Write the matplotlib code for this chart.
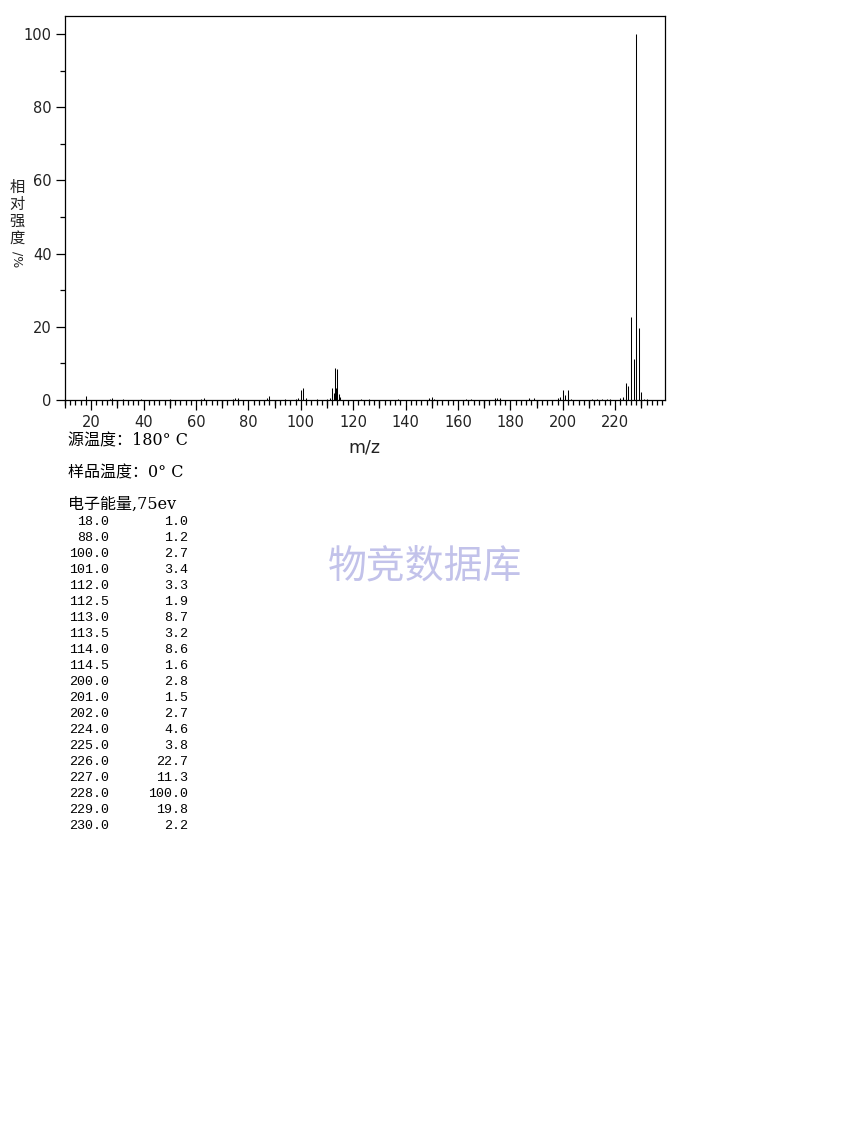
import matplotlib
matplotlib.use("Agg")
import matplotlib.pyplot as plt
from matplotlib.ticker import MultipleLocator

# ── Data ─────────────────────────────────────────────────────────────────────
# listed peaks (m/z, relative intensity %)
listed_mz = [18.0, 88.0, 100.0, 101.0, 112.0, 112.5, 113.0, 113.5, 114.0, 114.5,
             200.0, 201.0, 202.0, 224.0, 225.0, 226.0, 227.0, 228.0, 229.0, 230.0]
listed_int = [1.0, 1.2, 2.7, 3.4, 3.3, 1.9, 8.7, 3.2, 8.6, 1.6,
              2.8, 1.5, 2.7, 4.6, 3.8, 22.7, 11.3, 100.0, 19.8, 2.2]

# small peaks visible in the plot but not in the table (estimated)
minor_mz = [27, 28, 32, 39, 50, 62, 63, 74, 75, 76, 87, 94, 98, 99, 102, 106,
            110, 111, 115, 123, 126, 137, 149, 150, 151, 163, 165, 174, 175, 176,
            187, 189, 198, 199, 203, 211, 213, 215, 217, 218, 222, 223, 231, 232]
minor_int = [0.3, 0.6, 0.3, 0.3, 0.3, 0.3, 0.5, 0.3, 0.5, 0.5, 0.5, 0.3, 0.3, 0.6, 0.5, 0.3,
             0.3, 0.6, 0.8, 0.3, 0.3, 0.3, 0.5, 0.7, 0.4, 0.3, 0.3, 0.5, 0.6, 0.5,
             0.5, 0.5, 0.5, 0.8, 0.4, 0.3, 0.4, 0.3, 0.3, 0.3, 0.6, 0.8, 0.3, 0.3]

x_ticks = [20, 40, 60, 80, 100, 120, 140, 160, 180, 200, 220]
y_ticks = [0, 20, 40, 60, 80, 100]

info_lines = ["源温度：180° C", "样品温度：0° C", "电子能量,75ev"]

# ── Figure ───────────────────────────────────────────────────────────────────
W, H = 850, 1134
fig = plt.figure(figsize=(W / 100, H / 100), dpi=100)
fig.patch.set_facecolor("white")

def fx(px):
    return px / W

def fy(py):
    return 1 - py / H

ax = fig.add_axes([fx(65), fy(400), fx(665) - fx(65), fy(16) - fy(400)])
ax.vlines(minor_mz, 0, minor_int, color="black", linewidth=0.75)
ax.vlines(listed_mz, 0, listed_int, color="black", linewidth=0.75)

ax.set_xlim(10, 239)
ax.set_ylim(0, 104.9)

for s in ax.spines.values():
    s.set_linewidth(0.9)
    s.set_color("black")

ax.set_xticks(x_ticks)
ax.xaxis.set_minor_locator(MultipleLocator(2))
ax.set_yticks(y_ticks)
ax.yaxis.set_minor_locator(MultipleLocator(10))
ax.tick_params(axis="x", which="major", length=7.5, width=0.9, direction="out",
               labelsize=10.5, pad=3, labelcolor="#222222")
ax.tick_params(axis="x", which="minor", length=3.8, width=0.9, direction="out")
ax.tick_params(axis="y", which="major", length=6.5, width=0.9, direction="out",
               labelsize=10.5, pad=3, labelcolor="#222222")
ax.tick_params(axis="y", which="minor", length=3.5, width=0.9, direction="out")

# medium ticks at the odd tens
ax2 = ax.twiny()
ax2.set_xlim(ax.get_xlim())
ax2.xaxis.set_ticks_position("bottom")
ax2.set_xticks(list(range(10, 240, 20)))
ax2.set_xticklabels([])
ax2.tick_params(axis="x", length=5.5, width=0.9, direction="out")
for s in ax2.spines.values():
    s.set_visible(False)

# axis labels
fig.text(fx(364), fy(448), "m/z", ha="center", va="center", fontsize=12.5,
         family="DejaVu Sans", color="#222222")
for i, ch in enumerate("相对强度"):
    fig.text(fx(17), fy(187 + i * 17), ch, ha="center", va="center",
             fontsize=11, family=["Noto Sans CJK SC", "DejaVu Sans"], color="#222222")
fig.text(fx(17), fy(259), "/%", ha="center", va="center", fontsize=9,
         rotation=270, family="DejaVu Sans", color="#222222")

# info text
for i, line in enumerate(info_lines):
    fig.text(fx(68), fy(441 + i * 31.5), line, ha="left", va="center",
             fontsize=11.5, family=["DejaVu Serif", "Noto Sans CJK SC"])

# peak table
for i, (m, v) in enumerate(zip(listed_mz, listed_int)):
    y = fy(522 + i * 16)
    fig.text(fx(109), y, f"{m:.1f}", ha="right", va="center", fontsize=9.6,
             family="Liberation Mono")
    fig.text(fx(188), y, f"{v:.1f}", ha="right", va="center", fontsize=9.6,
             family="Liberation Mono")

# watermark
fig.text(fx(425), fy(567), "物竞数据库", ha="center", va="center", fontsize=28,
         color="#c2c2ea", family=["Noto Sans CJK SC", "DejaVu Sans"])

fig.savefig("out.png", dpi=100, facecolor="white")
